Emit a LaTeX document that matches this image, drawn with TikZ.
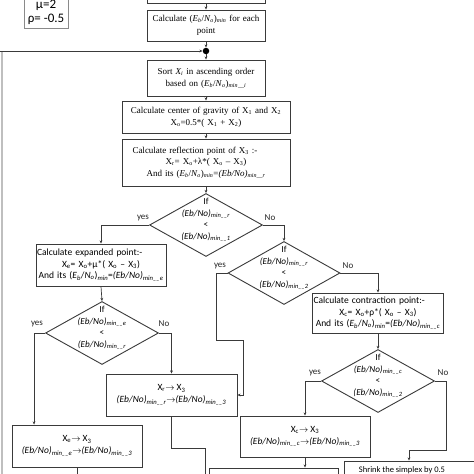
\documentclass[tikz,border=0pt]{standalone}
\usepackage{fontspec}
\setmainfont{Liberation Serif}
\newfontfamily\carl{Carlito}
\usetikzlibrary{arrows.meta,shapes.geometric}
\definecolor{lc}{HTML}{3A3A3A}
\definecolor{pc}{HTML}{8A8A8A}
\newcommand\EN{(\textit{E}\textsubscript{\textit{b}}/\textit{N}\textsubscript{\textit{o}})\textsubscript{\textit{min}}}
\newcommand\EB[1]{\textit{(Eb/No)}\textsubscript{\textit{min\_\_#1}}}
\newcommand\XX[1]{X\textsubscript{#1}}
\tikzset{
  box/.style={draw=lc, line width=0.9pt, fill=white, inner sep=1pt, align=center},
  tbox/.style={box, font=\fontsize{9}{12}\selectfont},
  sbox/.style={box, font=\carl\fontsize{9.5}{11.8}\selectfont},
  dia/.style={diamond, draw=lc, line width=0.9pt, inner sep=0pt, minimum width=113pt, minimum height=63pt},
  dtext/.style={font=\carl\fontsize{9.2}{11.7}\selectfont, align=center, inner sep=0pt},
  conn/.style={draw=lc, line width=0.7pt, -{Stealth[length=3.2pt,width=2.8pt]}},
  line/.style={draw=lc, line width=0.7pt},
  lbl/.style={font=\carl\fontsize{9}{10}\selectfont, inner sep=0pt, text=black!85},
}
\begin{document}
\begin{tikzpicture}[x=1pt,y=-1pt]
\fill[white] (0,0) rectangle (474,474);
\clip (0,0) rectangle (474,474);

% parameter box
\node[draw=pc, line width=0.8pt, minimum width=44pt, minimum height=40pt, inner sep=0pt] (param) at (46,8) {};
\node[font=\carl\fontsize{13}{14}\selectfont, align=center, inner sep=0pt, anchor=center] (paramt) at (46,12) {μ=2\\ρ= -0.5};

% main column
\node[tbox, minimum width=118pt, minimum height=26pt] (top) at (206,-10) {};
\node[tbox, minimum width=118pt, minimum height=31pt, text width=115pt] (calc) at (206,25.5) {Calculate \EN{} for each\\point};
\node[circle, fill=black, inner sep=0pt, minimum size=6.5pt] (dot) at (206,51) {};
\node[tbox, minimum width=118pt, minimum height=36pt, text width=115pt] (sort) at (206,78) {Sort \textit{X\textsubscript{i}} in ascending order\\based on \EN\textsubscript{\textit{\_\_i}}};
\node[tbox, minimum width=168pt, minimum height=32pt, text width=165pt] (cog) at (206,117) {Calculate center of gravity of \XX{1} and \XX{2}\\\XX{o}=0.5*( \XX{1} + \XX{2})};
\node[tbox, minimum width=168pt, minimum height=47pt, text width=165pt] (refl) at (206,162.5) {\makebox[\linewidth][l]{\hspace{9pt}Calculate reflection point of \XX{3} :-}\\[-0.5pt]\XX{r}= \XX{o}+λ*( \XX{o} – \XX{3})\\[-0.5pt]And its \EN=\EB{r}};

% diamond 1
\node[dia] (d1) at (206,225) {};
\node[dtext] (d1t) at ([yshift=5pt]d1.center) {If\\\EB{r}\\<\\\EB{1}};

% expanded
\node[sbox, minimum width=130pt, minimum height=42pt, text width=128pt] (exp) at (101,265) {\makebox[\linewidth][l]{Calculate expanded point:-}\\\XX{e}= \XX{o}+μ*( \XX{o} – \XX{3})\\And its (\textit{E}\textsubscript{\textit{b}}/\textit{N}\textsubscript{\textit{o}})\textsubscript{\textit{min}}=\EB{e}};

% diamond 2
\node[dia, minimum width=112pt] (d2) at (284,273) {};
\node[dtext] (d2t) at ([yshift=5pt]d2.center) {If\\\EB{r}\\<\\\EB{2}};

% contraction
\node[sbox, minimum width=131pt, minimum height=40pt, text width=129pt] (con) at (378,313) {\makebox[\linewidth][l]{Calculate contraction point:-}\\\XX{c}= \XX{o}+ρ*( \XX{o} – \XX{3})\\And its (\textit{E}\textsubscript{\textit{b}}/\textit{N}\textsubscript{\textit{o}})\textsubscript{\textit{min}}=\EB{c}};

% diamond E
\node[dia] (dE) at (102,333) {};
\node[dtext] (dEt) at ([yshift=5pt]dE.center) {If\\\EB{e}\\<\\\EB{r}};

% diamond 3
\node[dia] (d3) at (378,381) {};
\node[dtext] (d3t) at ([yshift=5pt]d3.center) {If\\\EB{c}\\<\\\EB{2}};

% result boxes
\node[sbox, minimum width=131pt, minimum height=42pt] (xr) at (171.5,395) {\XX{r}$\rightarrow$ \XX{3}\\\EB{r}$\rightarrow$\EB{3}};
\node[sbox, minimum width=130pt, minimum height=42pt] (xe) at (77,446) {\XX{e}$\rightarrow$ \XX{3}\\\EB{e}$\rightarrow$\EB{3}};
\node[sbox, minimum width=130pt, minimum height=41pt] (xc) at (305,436.5) {\XX{c}$\rightarrow$ \XX{3}\\\EB{c}$\rightarrow$\EB{3}};
\node[sbox, minimum width=129pt, minimum height=40pt] (bot) at (273.5,488) {};
\node[sbox, minimum width=132pt, minimum height=40pt] (shrink) at (410,481) {};
\node[font=\carl\fontsize{8.5}{9}\selectfont, inner sep=0pt, anchor=north] (shrinkt) at (402,466.5) {Shrink the simplex by 0.5};

% loop-back line
\draw[pc!55, line width=1.4pt] (2,51) -- (2,476);
\coordinate (lft) at (0,51);
\draw[conn] (lft) -- (dot.west);

% connectors main column
\draw[conn] (top.south) -- (calc.north);
\draw[conn] (calc.south) -- (dot.north);
\draw[conn] (dot.south) -- (sort.north);
\draw[conn] (sort.south) -- (cog.north);
\draw[conn] (cog.south) -- (refl.north);
\draw[conn] (refl.south) -- (d1.north);

% diamond 1 branches
\draw[conn] (d1.west) -| (exp.north);
\draw[conn] (d1.east) -| (d2.north);
\node[lbl] (y1) at (143,218) {yes};
\node[lbl] (n1) at (270,218) {No};

% diamond 2 branches
\draw[conn] (d2.west) -- ++(-11,0) -- ++(0,67) -- ++(27,0) |- (xr.east);
\draw[conn] (d2.east) -| (con.north);
\node[lbl] (y2) at (220,266) {yes};
\node[lbl] (n2) at (348,266) {No};

% expanded -> diamond E
\draw[conn] (exp.south) -- (dE.north);
\draw[conn] (dE.west) -- ++(-11,0) coordinate (eL) -- (eL |- xe.north);
\draw[conn] (dE.east) -| (xr.north);
\node[lbl] (y3) at (37,324) {yes};
\node[lbl] (n3) at (164,324) {No};

% contraction -> diamond 3
\draw[conn] (con.south) -- (d3.north);
\draw[conn] (d3.west) -| (xc.north);
\draw[conn] (d3.east) -- ++(11,0) -- ++(0,69) coordinate (sR) -- (sR -| 409,0) coordinate (sT) -- (sT |- shrink.north);
\node[lbl] (y4) at (315,373) {yes};
\node[lbl] (n4) at (443,373) {No};

% lower connectors
\draw[line] (xr.south) -- ++(0,32) -- ++(33.5,0) -- ++(0,40);
\draw[conn] (xc.south) -- (xc.south |- bot.north);
\draw[line] (xe.south) -- ++(0,15);
\end{tikzpicture}
\end{document}
